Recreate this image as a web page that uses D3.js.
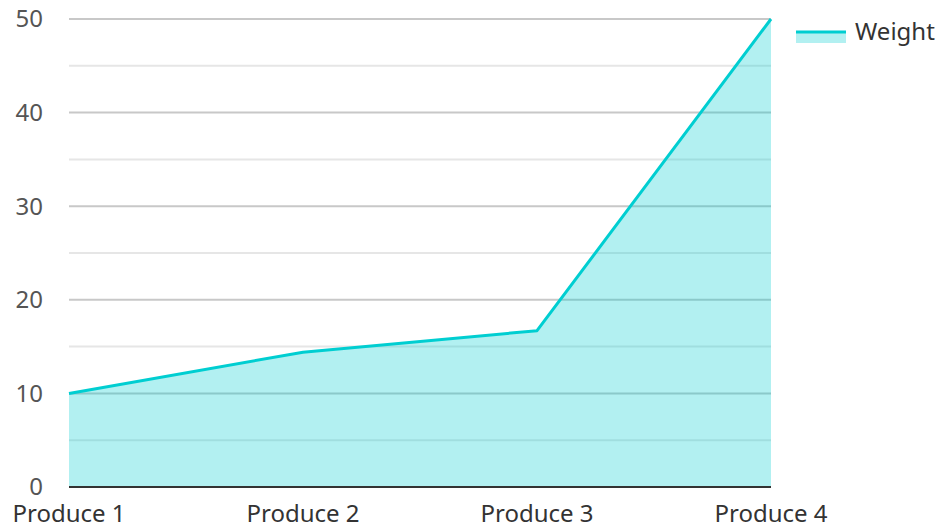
<!DOCTYPE html>
<html><head><meta charset="utf-8">
<script src="https://cdn.jsdelivr.net/npm/d3@7"></script>
<style>body{margin:0;background:#fff}svg{display:block;font-family:"Noto Sans","Open Sans",sans-serif}</style>
</head><body>
<svg id="c" width="941" height="526"></svg>
<script>
const categories = ["Produce 1","Produce 2","Produce 3","Produce 4"];
const weight = [10, 14.4, 16.7, 50];
const yTicks = [0,10,20,30,40,50];
const minorTicks = [5,15,25,35,45];
const seriesName = "Weight";

const svg = d3.select("#c");
const m = {l:69, r:170, t:19, b:39};
const W = 941, H = 526;
const x = d3.scalePoint().domain(categories).range([m.l, W - m.r]);
const y = d3.scaleLinear().domain([0,50]).range([H - m.b, m.t]);
const color = "#00ced1";
const fs = 24;

const g = svg.append("g");
g.selectAll("line.minor").data(minorTicks).join("line")
  .attr("x1", m.l).attr("x2", W - m.r).attr("y1", d=>y(d)).attr("y2", d=>y(d))
  .attr("stroke", "#e6e6e6").attr("stroke-width", 2);
g.selectAll("line.major").data(yTicks.slice(1)).join("line")
  .attr("x1", m.l).attr("x2", W - m.r).attr("y1", d=>y(d)).attr("y2", d=>y(d))
  .attr("stroke", "#c8c8c8").attr("stroke-width", 2);

const data = categories.map((c,i)=>({c, v: weight[i]}));
g.append("path").datum(data)
  .attr("d", d3.area().x(d=>x(d.c)).y0(y(0)).y1(d=>y(d.v)))
  .attr("fill", color).attr("fill-opacity", 0.3);
g.append("path").datum(data)
  .attr("d", d3.line().x(d=>x(d.c)).y(d=>y(d.v)))
  .attr("fill", "none").attr("stroke", color).attr("stroke-width", 3).attr("stroke-linejoin","round");

g.append("line").attr("x1", m.l).attr("x2", W - m.r).attr("y1", y(0)).attr("y2", y(0))
  .attr("stroke", "#333").attr("stroke-width", 2);

g.selectAll("text.yl").data(yTicks).join("text")
  .attr("x", 43).attr("y", d=>y(d)).attr("dy", "0.35em").attr("text-anchor", "end")
  .attr("font-size", fs).attr("fill", "#555").text(d=>d);

g.selectAll("text.xl").data(categories).join("text")
  .attr("x", d=>x(d)).attr("y", 522).attr("text-anchor", "middle")
  .attr("font-size", fs).attr("fill", "#333").text(d=>d);

const lg = svg.append("g");
lg.append("rect").attr("x", 796).attr("y", 31).attr("width", 50).attr("height", 12)
  .attr("fill", color).attr("fill-opacity", 0.3);
lg.append("line").attr("x1", 796).attr("x2", 846).attr("y1", 32).attr("y2", 32)
  .attr("stroke", color).attr("stroke-width", 3);
lg.append("text").attr("x", 855).attr("y", 40).attr("font-size", fs).attr("fill", "#333").text(seriesName);
</script>
</body></html>
